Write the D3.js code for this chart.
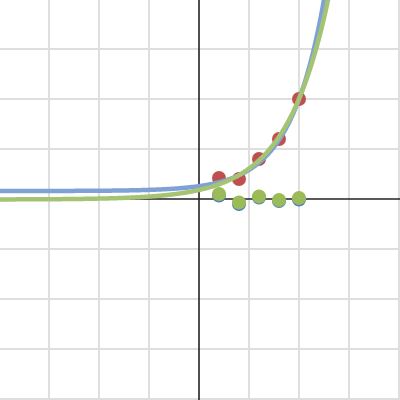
<!DOCTYPE html>
<html><head><meta charset="utf-8">
<script src="https://cdn.jsdelivr.net/npm/d3@7"></script>
<style>html,body{margin:0;padding:0;background:#fff;}svg{display:block;}</style>
</head><body>
<svg id="chart" width="400" height="400"></svg>
<script>
// Data
const gridTicks = [-4, -3, -2, -1, 1, 2, 3, 4];
const pointX = [0.4, 0.8, 1.2, 1.6, 2.0];
const redY = [0.42, 0.4, 0.8, 1.2, 2.0];
const blueY = [0.07, -0.1, 0.03, -0.04, -0.01];
const greenY = [0.1, -0.07, 0.05, -0.02, 0.02];
// exponential curves y = a * e^(k x) + c
const blueCurve = [0.097, 1.47, 0.16];
const greenCurve = [0.19, 1.18, -0.01];

const svg = d3.select('#chart');
const x = d3.scaleLinear().domain([-4, 4]).range([-1, 399]);
const y = d3.scaleLinear().domain([-4, 4]).range([399, -1]);

// grid
svg.append('g').selectAll('line').data(gridTicks).join('line')
  .attr('x1', d => x(d)).attr('x2', d => x(d)).attr('y1', 0).attr('y2', 400)
  .attr('stroke', '#dedede').attr('stroke-width', 2);
svg.append('g').selectAll('line').data(gridTicks).join('line')
  .attr('y1', d => y(d)).attr('y2', d => y(d)).attr('x1', 0).attr('x2', 400)
  .attr('stroke', '#dedede').attr('stroke-width', 2);

// axes
svg.append('line').attr('x1', x(0)).attr('x2', x(0)).attr('y1', 0).attr('y2', 400)
  .attr('stroke', '#222').attr('stroke-width', 1.6);
svg.append('line').attr('y1', y(0)).attr('y2', y(0)).attr('x1', 0).attr('x2', 400)
  .attr('stroke', '#222').attr('stroke-width', 1.6);

// red points
svg.append('g').selectAll('circle').data(pointX).join('circle')
  .attr('cx', d => x(d)).attr('cy', (d, i) => y(redY[i])).attr('r', 7)
  .attr('fill', '#c0504d');
// blue points
svg.append('g').selectAll('circle').data(pointX).join('circle')
  .attr('cx', d => x(d)).attr('cy', (d, i) => y(blueY[i])).attr('r', 7)
  .attr('fill', '#4f81bd');
// green points
svg.append('g').selectAll('circle').data(pointX).join('circle')
  .attr('cx', d => x(d)).attr('cy', (d, i) => y(greenY[i])).attr('r', 7)
  .attr('fill', '#9bbb59');

function curvePts(p) {
  const pts = [];
  const xs = d3.range(-4.1, 3.0, 0.01);
  for (const t of xs) pts.push([t, p[0] * Math.exp(p[1] * t) + p[2]]);
  return pts;
}
const line = d3.line().x(d => x(d[0])).y(d => y(d[1]));
svg.append('path').attr('d', line(curvePts(blueCurve)))
  .attr('fill', 'none').attr('stroke', '#7ea2d5').attr('stroke-width', 4.5);
svg.append('path').attr('d', line(curvePts(greenCurve)))
  .attr('fill', 'none').attr('stroke', '#a4c474').attr('stroke-width', 4.5);
</script>
</body></html>
